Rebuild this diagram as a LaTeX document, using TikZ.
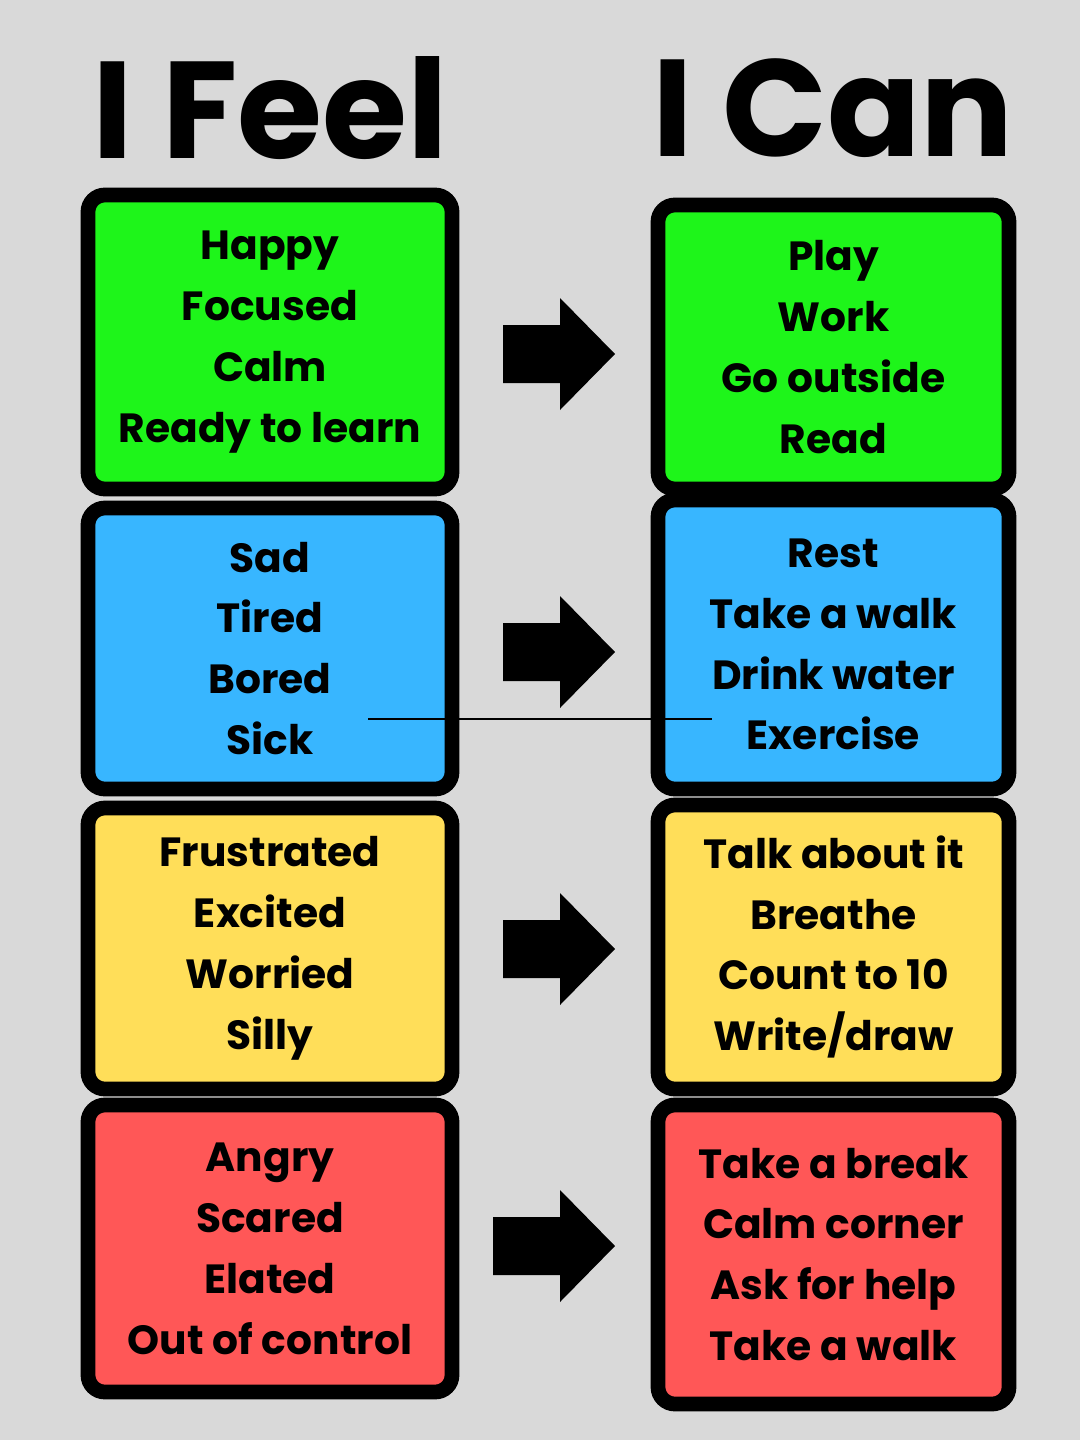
\documentclass[tikz,border=0pt]{standalone}
\usepackage{fontspec}
\setmainfont{Poppins}[UprightFont=* Bold]
\definecolor{bg}{HTML}{D9D9D9}
\definecolor{cg}{HTML}{1EF51A}
\definecolor{cb}{HTML}{38B6FF}
\definecolor{cy}{HTML}{FFDE59}
\definecolor{cr}{HTML}{FF5757}
\begin{document}
\begin{tikzpicture}[x=0.025cm,y=-0.025cm,
  box/.style={draw=black,line width=10.5pt,rounded corners=12pt,inner sep=0pt,align=center,
    font=\fontsize{29}{43.3}\selectfont},
  title/.style={font=\fontsize{98}{100}\selectfont,inner sep=0pt},
  blockarrow/.style={fill=black}]
\fill[bg] (0,0) rectangle (1080,1440);
\useasboundingbox (0,0) rectangle (1080,1440);
\node[title] (t1) at (270,108) {I Feel};
\node[title] (t2) at (833,108) {I Can};
% left
\node[box,fill=cg,minimum width=364*0.025cm,minimum height=294*0.025cm] (l1) at (270,342) {Happy\\Focused\\Calm\\Ready to learn};
\node[box,fill=cb,minimum width=364*0.025cm,minimum height=281*0.025cm] (l2) at (270,648.5) {Sad\\Tired\\Bored\\Sick};
\node[box,fill=cy,minimum width=364*0.025cm,minimum height=281*0.025cm] (l3) at (270,948.5) {Frustrated\\Excited\\Worried\\Silly};
\node[box,fill=cr,minimum width=364*0.025cm,minimum height=287*0.025cm] (l4) at (270,1248.5) {Angry\\Scared\\Elated\\Out of control};
% right
\node[box,fill=cg,minimum width=351*0.025cm,minimum height=284*0.025cm] (r1) at (833.5,347) {Play\\Work\\Go outside\\Read};
\node[box,fill=cb,minimum width=351*0.025cm,minimum height=289*0.025cm] (r2) at (833.5,644.5) {Rest\\Take a walk\\Drink water\\Exercise};
\node[box,fill=cy,minimum width=351*0.025cm,minimum height=284*0.025cm] (r3) at (833.5,947) {Talk about it\\Breathe\\Count to 10\\Write/draw};
\node[box,fill=cr,minimum width=351*0.025cm,minimum height=299*0.025cm] (r4) at (833.5,1254.5) {Take a break\\Calm corner\\Ask for help\\Take a walk};
% arrows
\foreach \yy/\xs in {354/503,652/503,949/503,1246/493}{
  \fill[blockarrow] (\xs,\yy-29) -- (560,\yy-29) -- (560,\yy-56) -- (615,\yy) -- (560,\yy+56) -- (560,\yy+29) -- (\xs,\yy+29) -- cycle;
}
\coordinate (la) at (368,719);
\coordinate (lb) at (712,719);
\draw[line width=1.2pt] (la) -- (lb);
\end{tikzpicture}
\end{document}
